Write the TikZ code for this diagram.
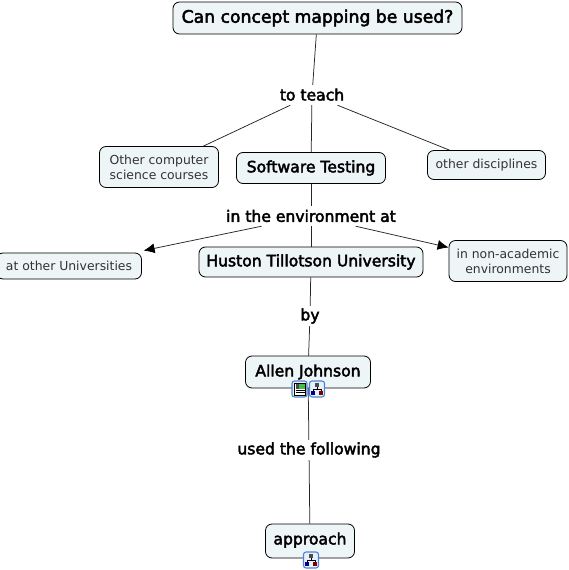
\documentclass[tikz,border=0pt]{standalone}
\usepackage{fontspec}
\setmainfont{DejaVu Sans}
\newfontfamily\fakeb[FakeBold=2.8]{DejaVu Sans}
\usetikzlibrary{arrows.meta}
\definecolor{boxfill}{HTML}{EEF5F7}
\definecolor{iconblue}{HTML}{4A86D8}
\definecolor{iconfill}{HTML}{E8F0FA}
\tikzset{
  concept/.style={draw=black,line width=0.8pt,rounded corners=6.5pt,fill=boxfill,inner sep=0pt,align=center,text=black},
  big/.style={concept,font=\fakeb\fontsize{15.6}{18}\selectfont},
  small/.style={concept,font=\fontsize{12.4}{15}\selectfont,text=black!80},
  linklabel/.style={inner sep=0pt,font=\fakeb\fontsize{15.6}{18}\selectfont},
  conn/.style={draw=black!85,line width=0.75pt},
  arr/.style={conn,-{Latex[length=11pt,width=10pt,black]}},
  iconbox/.style={draw=iconblue,line width=1.1pt,rounded corners=2.5pt,fill=iconfill,minimum width=15pt,minimum height=16pt,inner sep=0pt}
}
\newcommand{\mapglyph}[1]{%
  \fill[black!70] ([shift={(-2,-6)}]#1.center) rectangle ++(4,3.5);
  \fill[blue!60!black] ([shift={(-6,2)}]#1.center) rectangle ++(4,4);
  \fill[red!50!black] ([shift={(2,2)}]#1.center) rectangle ++(4,4);
  \draw[black,line width=.7pt] ([shift={(0,-2.5)}]#1.center) -- ++(0,2.5) ([shift={(-4,2)}]#1.center) -- ++(0,-2) -- ++(8,0) -- ++(0,2);
}
\begin{document}
\begin{tikzpicture}[x=1pt,y=-1pt]
\useasboundingbox (0,0) rectangle (568,570);
\clip (0,0) rectangle (568,570);
\node[big,font=\fakeb\fontsize{17.2}{20}\selectfont,minimum width=289pt,minimum height=32pt] (title) at (317.5,18) {\raisebox{1pt}{Can concept mapping be used?}};
\node[linklabel,minimum width=64pt,minimum height=20pt] (teach) at (312,95) {\raisebox{1pt}{to teach}};
\node[small,minimum width=119pt,minimum height=41pt] (other) at (159,167) {Other computer\\science courses};
\node[big,minimum width=149pt,minimum height=31pt] (soft) at (311,168) {Software Testing};
\node[small,minimum width=118pt,minimum height=29pt] (disc) at (486.5,165) {other disciplines};
\node[linklabel,minimum width=168pt,minimum height=20pt] (env) at (311,216) {in the environment at};
\node[small,minimum width=145pt,minimum height=26pt] (univ) at (69,266) {at other Universities};
\node[big,minimum width=224pt,minimum height=30pt] (huston) at (311,262) {\raisebox{1pt}{Huston Tillotson University}};
\node[small,minimum width=118pt,minimum height=41pt] (nonac) at (508,261) {in non-academic\\environments};
\node[linklabel,minimum width=20pt,minimum height=20pt] (by) at (310,316) {by};
\node[big,minimum width=125pt,minimum height=32pt] (allen) at (308,372) {\raisebox{3pt}{Allen Johnson}};
\node[iconbox] (icona) at (299.5,389) {};
\node[iconbox] (iconb) at (317,389) {};
\node[linklabel,minimum width=144pt,minimum height=20pt] (used) at (309,450) {used the following};
\node[big,minimum width=89pt,minimum height=34pt] (appr) at (310,541) {\raisebox{5pt}{approach}};
\node[iconbox] (iconc) at (311,560) {};
\fill[white] ([shift={(-5,-6)}]icona.center) rectangle ++(11,12);
\draw[black,line width=.7pt] ([shift={(-5,-6)}]icona.center) rectangle ++(11,12);
\fill[green!45!gray] ([shift={(-1,-5)}]icona.center) rectangle ++(6,5);
\fill[black!70] ([shift={(-4,-5)}]icona.center) rectangle ++(3,5);
\draw[black,line width=.6pt] ([shift={(-4,1.5)}]icona.center) -- ++(9,0) ++(-9,2) -- ++(9,0);
\mapglyph{iconb}
\mapglyph{iconc}
\draw[conn] (title) -- (teach);
\draw[conn] (teach) -- (other);
\draw[conn] (teach) -- (soft);
\draw[conn] (teach) -- (disc);
\draw[conn] (soft) -- (env);
\draw[conn] (env) -- (huston);
\draw[arr,shorten >=10pt] (env) -- (univ);
\draw[arr] (env) -- (nonac);
\draw[conn] (huston) -- (by);
\draw[conn] (by) -- (allen);
\draw[conn] (allen) -- (used);
\draw[conn] (used) -- (appr);
\end{tikzpicture}
\end{document}
